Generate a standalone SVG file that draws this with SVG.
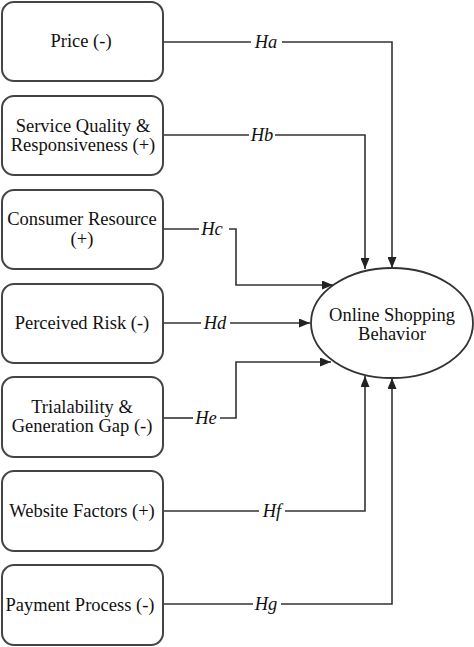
<svg xmlns="http://www.w3.org/2000/svg" width="474" height="647" viewBox="0 0 474 647">
<style>
.box{fill:#fff;stroke:#444;stroke-width:2}
.t{font-family:"Liberation Serif","Times New Roman",serif;font-size:18.5px;fill:#111;text-anchor:middle}
.h{font-family:"Liberation Serif","Times New Roman",serif;font-size:18.5px;font-style:italic;fill:#111;text-anchor:middle}
.c{fill:none;stroke:#333;stroke-width:1.6}
</style>
<defs>
<marker id="arr" markerUnits="userSpaceOnUse" markerWidth="11" markerHeight="9" refX="11" refY="4.5" orient="auto">
<path d="M0,0 L11,4.5 L0,9 z" fill="#222"/>
</marker>
</defs>
<rect width="474" height="647" fill="#fff"/>
<g id="connectors">
<path class="c" d="M163,42 H251"/><path class="c" d="M282,42 H392 V268" marker-end="url(#arr)"/>
<path class="c" d="M163,135 H249"/><path class="c" d="M275,135 H365 V269" marker-end="url(#arr)"/>
<path class="c" d="M163,229 H199"/><path class="c" d="M229,229 H236 V285 H333" marker-end="url(#arr)"/>
<path class="c" d="M163,323 H201"/><path class="c" d="M230,323 H310" marker-end="url(#arr)"/>
<path class="c" d="M163,418 H193"/><path class="c" d="M220,418 H236 V362 H331" marker-end="url(#arr)"/>
<path class="c" d="M163,511 H259"/><path class="c" d="M285,511 H365 V376" marker-end="url(#arr)"/>
<path class="c" d="M163,604 H253"/><path class="c" d="M281,604 H392 V378" marker-end="url(#arr)"/>
<text class="h" x="266" y="48">Ha</text>
<text class="h" x="262" y="141">Hb</text>
<text class="h" x="212" y="235">Hc</text>
<text class="h" x="215" y="329">Hd</text>
<text class="h" x="206" y="424">He</text>
<text class="h" x="272" y="517">Hf</text>
<text class="h" x="266" y="610">Hg</text>
</g>
<g id="price"><rect class="box" x="2" y="2" width="161" height="79" rx="12"/><text class="t" x="81" y="47">Price (-)</text></g>
<g id="service"><rect class="box" x="2" y="96" width="161" height="79" rx="12"/><text class="t" x="83" y="132">Service Quality &amp;</text><text class="t" x="83" y="151">Responsiveness (+)</text></g>
<g id="consumer"><rect class="box" x="2" y="190" width="161" height="79" rx="12"/><text class="t" x="82" y="225">Consumer Resource</text><text class="t" x="82" y="245">(+)</text></g>
<g id="risk"><rect class="box" x="2" y="284" width="161" height="79" rx="12"/><text class="t" x="82" y="329">Perceived Risk (-)</text></g>
<g id="trial"><rect class="box" x="2" y="377" width="161" height="80" rx="12"/><text class="t" x="82" y="413">Trialability &amp;</text><text class="t" x="82" y="432">Generation Gap (-)</text></g>
<g id="website"><rect class="box" x="2" y="471" width="161" height="80" rx="12"/><text class="t" x="82" y="517">Website Factors (+)</text></g>
<g id="payment"><rect class="box" x="2" y="565" width="161" height="80" rx="12"/><text class="t" x="80" y="611">Payment Process (-)</text></g>
<g id="behavior"><ellipse cx="392" cy="323" rx="81" ry="55" fill="#fff" stroke="#333" stroke-width="1.8"/><text class="t" x="392" y="321">Online Shopping</text><text class="t" x="392" y="340">Behavior</text></g>
</svg>
